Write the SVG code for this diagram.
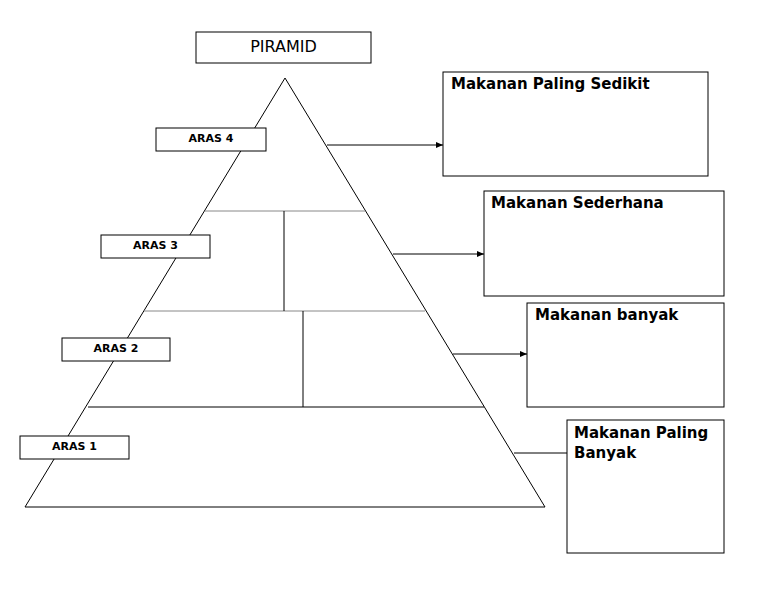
<svg xmlns="http://www.w3.org/2000/svg" width="768" height="594" viewBox="0 0 768 594">
<style>
.b{fill:#fff;stroke:#000;stroke-width:1}
.l{stroke:#000;stroke-width:1;fill:none}
.g{stroke:#888;stroke-width:1;fill:none}
.a{font-family:"DejaVu Sans",sans-serif;font-size:11px;font-weight:bold;text-anchor:middle}
.h{font-family:"DejaVu Sans",sans-serif;font-size:15px;font-weight:bold}
</style>
<defs><marker id="ar" markerWidth="8" markerHeight="8" refX="7" refY="4" orient="auto" markerUnits="userSpaceOnUse"><path d="M0,1 L7,4 L0,7 Z" fill="#000"/></marker></defs>
<rect width="768" height="594" fill="#fff"/>
<g id="pyramid">
<polygon class="l" points="285,78 25,507 545,507"/>
<line class="g" x1="205" y1="211" x2="365" y2="211"/>
<line class="g" x1="144" y1="311" x2="425" y2="311"/>
<line class="l" x1="88" y1="407" x2="484" y2="407"/>
<line class="l" x1="284" y1="211" x2="284" y2="311"/>
<line class="l" x1="303" y1="311" x2="303" y2="407"/>
</g>
<g id="title"><rect class="b" x="196" y="32" width="175" height="31"/><text x="283.5" y="52" font-family="DejaVu Sans,sans-serif" font-size="16" text-anchor="middle">PIRAMID</text></g>
<g id="aras4"><rect class="b" x="156" y="128" width="110" height="23"/><text class="a" x="211" y="142">ARAS 4</text></g>
<g id="aras3"><rect class="b" x="101" y="235" width="109" height="23"/><text class="a" x="155.5" y="249">ARAS 3</text></g>
<g id="aras2"><rect class="b" x="62" y="338" width="108" height="23"/><text class="a" x="116" y="352">ARAS 2</text></g>
<g id="aras1"><rect class="b" x="20" y="436" width="109" height="23"/><text class="a" x="74.5" y="450">ARAS 1</text></g>
<g id="connectors">
<line class="l" x1="327" y1="145" x2="443" y2="145" marker-end="url(#ar)"/>
<line class="l" x1="393" y1="254" x2="484" y2="254" marker-end="url(#ar)"/>
<line class="l" x1="453" y1="354" x2="527" y2="354" marker-end="url(#ar)"/>
<line class="l" x1="514" y1="453" x2="567" y2="453"/>
</g>
<g id="box4"><rect class="b" x="443" y="72" width="265" height="104"/><text class="h" x="451" y="89">Makanan Paling Sedikit</text></g>
<g id="box3"><rect class="b" x="484" y="191" width="240" height="105"/><text class="h" x="491" y="208">Makanan Sederhana</text></g>
<g id="box2"><rect class="b" x="527" y="303" width="197" height="104"/><text class="h" x="535" y="320">Makanan banyak</text></g>
<g id="box1"><rect class="b" x="567" y="420" width="157" height="133"/><text class="h" x="574" y="438">Makanan Paling<tspan x="574" dy="20">Banyak</tspan></text></g>
</svg>
